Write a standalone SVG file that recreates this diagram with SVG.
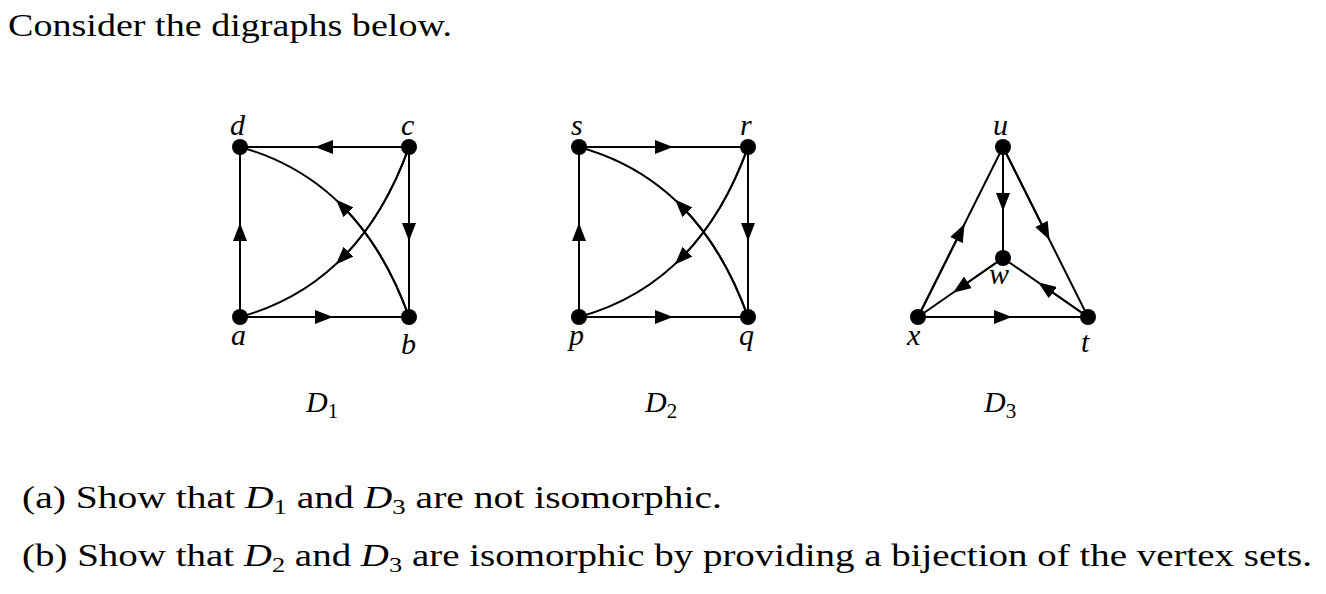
<svg xmlns="http://www.w3.org/2000/svg" width="1326" height="594" viewBox="0 0 1326 594">
<style>
.e{stroke:#000;stroke-width:2;fill:none}
.v{fill:#000}
.t{font-family:"Liberation Serif",serif;font-size:31px;fill:#000}
.l{font-family:"Liberation Serif",serif;font-style:italic;font-size:30px;fill:#000}
</style>
<defs><marker id="a" markerUnits="userSpaceOnUse" markerWidth="18" markerHeight="14" refX="9" refY="7" orient="auto"><path d="M0,0 L18,7 L0,14 z" fill="#000"/></marker></defs>
<rect width="1326" height="594" fill="#fff"/>
<text class="t" x="8" y="36" textLength="444" lengthAdjust="spacingAndGlyphs">Consider the digraphs below.</text>
<g id="connectors">
<path class="e" d="M409,147 L240,147"/><path class="e" d="M409,147 L324,147" marker-end="url(#a)"/>
<path class="e" d="M409,147 L409,317"/><path class="e" d="M409,147 L409,232" marker-end="url(#a)"/>
<path class="e" d="M240,317 L240,147"/><path class="e" d="M240,317 L240,232" marker-end="url(#a)"/>
<path class="e" d="M240,317 L409,317"/><path class="e" d="M240,317 L324,317" marker-end="url(#a)"/>
<path class="e" d="M409,317 Q360,180 240,147"/><path class="e" d="M409,317 Q384.5,248.5 342.25,206" marker-end="url(#a)"/>
<path class="e" d="M409,147 Q360,284 240,317"/><path class="e" d="M409,147 Q384.5,215.5 342.25,258" marker-end="url(#a)"/>

<path class="e" d="M579,147 L748,147"/><path class="e" d="M579,147 L664,147" marker-end="url(#a)"/>
<path class="e" d="M748,147 L748,317"/><path class="e" d="M748,147 L748,232" marker-end="url(#a)"/>
<path class="e" d="M579,317 L579,147"/><path class="e" d="M579,317 L579,232" marker-end="url(#a)"/>
<path class="e" d="M579,317 L748,317"/><path class="e" d="M579,317 L664,317" marker-end="url(#a)"/>
<path class="e" d="M748,317 Q699,180 579,147"/><path class="e" d="M748,317 Q723.5,248.5 681.25,206" marker-end="url(#a)"/>
<path class="e" d="M748,147 Q699,284 579,317"/><path class="e" d="M748,147 Q723.5,215.5 681.25,258" marker-end="url(#a)"/>

<path class="e" d="M1003,147 L1003,258"/><path class="e" d="M1003,147 L1003,202" marker-end="url(#a)"/>
<path class="e" d="M1003,147 L1088,317"/><path class="e" d="M1003,147 L1045.5,232" marker-end="url(#a)"/>
<path class="e" d="M918,317 L1003,147"/><path class="e" d="M918,317 L960.5,232" marker-end="url(#a)"/>
<path class="e" d="M918,317 L1088,317"/><path class="e" d="M918,317 L1003,317" marker-end="url(#a)"/>
<path class="e" d="M1088,317 L1003,258"/><path class="e" d="M1088,317 L1045.5,287.5" marker-end="url(#a)"/>
<path class="e" d="M1003,258 L918,317"/><path class="e" d="M1003,258 L960.5,287.5" marker-end="url(#a)"/>
</g>
<g id="a-node"><circle class="v" cx="240" cy="317" r="8"/><text class="l" x="231" y="345">a</text></g>
<g id="b-node"><circle class="v" cx="409" cy="317" r="8"/><text class="l" x="401" y="354">b</text></g>
<g id="c-node"><circle class="v" cx="409" cy="147" r="8"/><text class="l" x="401" y="135">c</text></g>
<g id="d-node"><circle class="v" cx="240" cy="147" r="8"/><text class="l" x="230" y="135">d</text></g>
<g id="p-node"><circle class="v" cx="579" cy="317" r="8"/><text class="l" x="569" y="345">p</text></g>
<g id="q-node"><circle class="v" cx="748" cy="317" r="8"/><text class="l" x="739" y="345">q</text></g>
<g id="r-node"><circle class="v" cx="748" cy="147" r="8"/><text class="l" x="740" y="135">r</text></g>
<g id="s-node"><circle class="v" cx="579" cy="147" r="8"/><text class="l" x="571" y="135">s</text></g>
<g id="u-node"><circle class="v" cx="1003" cy="147" r="8"/><text class="l" x="993" y="135">u</text></g>
<g id="w-node"><circle class="v" cx="1003" cy="258" r="8"/><text class="l" x="989" y="284">w</text></g>
<g id="x-node"><circle class="v" cx="918" cy="317" r="8"/><text class="l" x="907" y="345">x</text></g>
<g id="t-node"><circle class="v" cx="1088" cy="317" r="8"/><text class="l" x="1081" y="352">t</text></g>
<text class="l" x="306" y="412">D<tspan font-style="normal" font-size="21" dy="6">1</tspan></text>
<text class="l" x="645" y="412">D<tspan font-style="normal" font-size="21" dy="6">2</tspan></text>
<text class="l" x="984" y="412">D<tspan font-style="normal" font-size="21" dy="6">3</tspan></text>
<text class="t" x="22" y="508" textLength="700" lengthAdjust="spacingAndGlyphs">(a)  Show that <tspan font-style="italic">D</tspan><tspan font-size="21" dy="6">1</tspan><tspan dy="-6"> and </tspan><tspan font-style="italic">D</tspan><tspan font-size="21" dy="6">3</tspan><tspan dy="-6"> are not isomorphic.</tspan></text>
<text class="t" x="22" y="566" textLength="1290" lengthAdjust="spacingAndGlyphs">(b)  Show that <tspan font-style="italic">D</tspan><tspan font-size="21" dy="6">2</tspan><tspan dy="-6"> and </tspan><tspan font-style="italic">D</tspan><tspan font-size="21" dy="6">3</tspan><tspan dy="-6"> are isomorphic by providing a bijection of the vertex sets.</tspan></text>
</svg>
